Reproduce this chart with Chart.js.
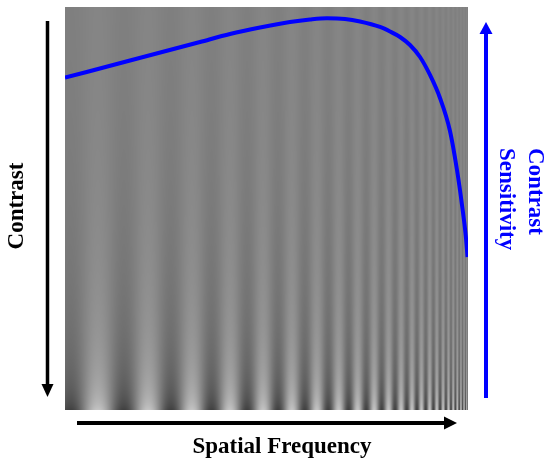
<!DOCTYPE html>
<html><head><meta charset="utf-8">
<script src="https://cdn.jsdelivr.net/npm/chart.js@4/dist/chart.umd.min.js"></script>
<style>html,body{margin:0;padding:0;background:#fff;overflow:hidden}</style>
</head><body>
<canvas id="c" width="550" height="469"></canvas>
<script>
// Relative spatial-frequency position (0 = left edge, 100 = right edge)
const frequencyPos = [0, 16.13, 33.50, 40.94, 48.39, 55.83, 60.79, 65.01, 69.48, 73.20, 78.16, 80.65, 83.13, 85.61, 88.09, 90.57, 93.05, 95.53, 97.27, 98.51, 99.50, 99.88];
// Relative contrast sensitivity (0 = bottom, 100 = top)
const sensitivity = [82.46, 86.72, 91.32, 93.30, 94.91, 96.28, 96.90, 97.20, 97.02, 96.40, 95.04, 93.92, 92.56, 90.57, 87.59, 83.13, 77.42, 69.23, 59.55, 50.87, 42.68, 37.97];
const xAxisLabel = 'Spatial Frequency';
const leftAxisLabel = 'Contrast';
const rightAxisLabel = ['Contrast', 'Sensitivity'];

const FONT = 'bold 23px "Liberation Serif", "Times New Roman", serif';

const gratingPlugin = {
  id: 'grating',
  beforeDatasetsDraw(chart) {
    const { ctx, chartArea: a } = chart;
    const w = Math.round(a.right - a.left), h = Math.round(a.bottom - a.top);
    if (!this.off || this.w !== w || this.h !== h) {
      const off = document.createElement('canvas');
      off.width = w; off.height = h;
      const octx = off.getContext('2d');
      const img = octx.createImageData(w, h);
      const X0 = w * 1.042, K = 7.19;
      const ph = u => K * Math.log(X0 / (X0 - u));
      const p0 = ph(5);
      const S = 6;
      const col = new Float32Array(w);
      for (let x = 0; x < w; x++) {
        let s = 0;
        for (let k = 0; k < S; k++) {
          const u = x + (k + 0.5) / S;
          s += -Math.cos(2 * Math.PI * (ph(u) - p0));
        }
        col[x] = s / S;
      }
      for (let y = 0; y < h; y++) {
        const v = h - 1 - y;
        const A = 65 / Math.pow(1 + v / 15, 0.55) * Math.exp(-v / 300);
        for (let x = 0; x < w; x++) {
          const g = Math.max(0, Math.min(255, 130 + A * col[x]));
          const i = (y * w + x) * 4;
          img.data[i] = img.data[i + 1] = img.data[i + 2] = g;
          img.data[i + 3] = 255;
        }
      }
      octx.putImageData(img, 0, 0);
      this.off = off; this.w = w; this.h = h;
    }
    ctx.drawImage(this.off, a.left, a.top, w, h);
  }
};

function arrow(ctx, x1, y1, x2, y2, color, lw, hl, hw) {
  const ang = Math.atan2(y2 - y1, x2 - x1);
  const bx = x2 - hl * Math.cos(ang), by = y2 - hl * Math.sin(ang);
  ctx.save();
  ctx.strokeStyle = color; ctx.fillStyle = color; ctx.lineWidth = lw;
  ctx.beginPath(); ctx.moveTo(x1, y1); ctx.lineTo(bx, by); ctx.stroke();
  ctx.beginPath();
  ctx.moveTo(x2, y2);
  ctx.lineTo(bx + hw / 2 * Math.sin(ang), by - hw / 2 * Math.cos(ang));
  ctx.lineTo(bx - hw / 2 * Math.sin(ang), by + hw / 2 * Math.cos(ang));
  ctx.closePath(); ctx.fill();
  ctx.restore();
}

const annotPlugin = {
  id: 'annot',
  afterDraw(chart) {
    const { ctx, chartArea: a } = chart;
    arrow(ctx, 47.5, 21, 47.5, 397, '#000', 3.5, 13, 12);
    arrow(ctx, a.right + 18, 398, a.right + 18, 22, '#0000ff', 4, 12, 13);
    arrow(ctx, 77, a.bottom + 13, 457, a.bottom + 13, '#000', 4, 13, 13);

    ctx.save();
    ctx.font = FONT;
    ctx.fillStyle = '#000';
    ctx.textAlign = 'center'; ctx.textBaseline = 'alphabetic';
    ctx.fillText(xAxisLabel, 282, 453);
    ctx.restore();

    ctx.save();
    ctx.font = FONT; ctx.fillStyle = '#000';
    ctx.translate(23, 206); ctx.rotate(-Math.PI / 2);
    ctx.textAlign = 'center'; ctx.textBaseline = 'alphabetic';
    ctx.fillText(leftAxisLabel, 0, 0);
    ctx.restore();

    ctx.save();
    ctx.font = FONT; ctx.fillStyle = '#0000ff';
    ctx.translate(529, 148); ctx.rotate(Math.PI / 2);
    ctx.textAlign = 'left'; ctx.textBaseline = 'alphabetic';
    rightAxisLabel.forEach((t, i) => ctx.fillText(t, 0, i * 29));
    ctx.restore();
  }
};

new Chart(document.getElementById('c'), {
  type: 'line',
  data: {
    datasets: [{
      data: frequencyPos.map((x, i) => ({ x, y: sensitivity[i] })),
      borderColor: '#0000ff',
      borderWidth: 4,
      pointRadius: 0,
      fill: false,
      cubicInterpolationMode: 'monotone'
    }]
  },
  options: {
    responsive: false,
    animation: false,
    layout: { padding: { left: 65, top: 7, right: 82, bottom: 59 } },
    scales: {
      x: { type: 'linear', min: 0, max: 100, display: false },
      y: { type: 'linear', min: 0, max: 100, display: false }
    },
    plugins: { legend: { display: false }, tooltip: { enabled: false } }
  },
  plugins: [gratingPlugin, annotPlugin]
});
</script>
</body></html>
